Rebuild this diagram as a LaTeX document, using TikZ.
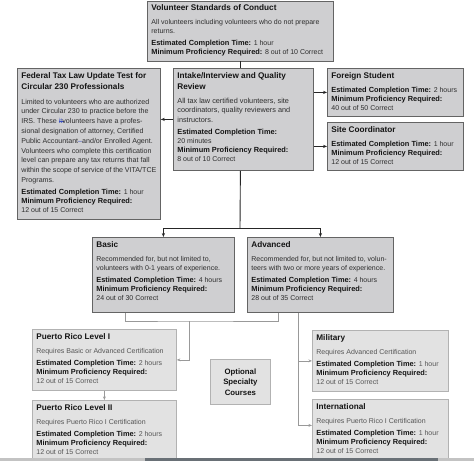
\documentclass[tikz,border=0pt]{standalone}
\usepackage{fontspec}
\setmainfont{Liberation Sans}
\usetikzlibrary{arrows.meta}

\definecolor{cardfill}{RGB}{207,207,209}
\definecolor{cardline}{RGB}{100,100,100}
\definecolor{optfill}{RGB}{226,226,226}
\definecolor{optline}{RGB}{178,178,178}
\definecolor{titletext}{RGB}{20,20,20}
\definecolor{bodytext}{RGB}{45,45,45}
\definecolor{optbody}{RGB}{85,85,85}
\definecolor{editmark}{RGB}{60,80,190}
\definecolor{barlight}{RGB}{195,195,195}
\definecolor{bardark}{RGB}{105,112,118}

\newcommand{\ect}{{\fontsize{7.4}{9}\selectfont\bfseries\color{titletext}Estimated Completion Time:}}
\newcommand{\mpr}{{\fontsize{7.4}{9}\selectfont\bfseries\color{titletext}Minimum Proficiency Required:}}
\newcommand{\cardtitle}[1]{{\fontsize{8.2}{11}\selectfont\bfseries\color{titletext}#1\par}\vspace{5pt}}

\begin{document}
\begin{tikzpicture}[x=1pt, y=-1pt,
        card/.style n args={2}{draw=cardline, fill=cardfill, line width=0.8pt, anchor=north west, inner sep=4pt, text=bodytext, font=\fontsize{7}{9}\selectfont, execute at begin node={\begin{minipage}[t][#2][t]{#1}\raggedright}, execute at end node={\end{minipage}}},
        optcard/.style n args={2}{card={#1}{#2}, draw=optline, fill=optfill, text=optbody},
        note/.style={draw=optline, fill=optfill, line width=0.8pt, anchor=north west, minimum width=60pt, minimum height=45pt, inner sep=0pt, align=center, text=titletext, font=\fontsize{7.8}{10.5}\selectfont\bfseries},
        line/.style={line width=0.9pt, black!85},
        arrow/.style={line, -{Stealth[length=4pt, width=3.2pt]}},
        softline/.style={line width=0.7pt, black!40},
        softarrow/.style={softline, -{Stealth[length=3.5pt, width=2.8pt]}}
    ]
    \useasboundingbox (0,0) rectangle (474,461);

    % upper level
    \node[card={178pt}{52pt}] (vsc) at (147,0.5) {\cardtitle{Volunteer Standards of Conduct}
        All volunteers including volunteers who do not prepare\\returns.\par\vspace{3pt}
        \ect{} 1 hour\\\mpr{} 8 out of 10 Correct};

    \node[card={135pt}{143pt}] (ftl) at (17,68) {\cardtitle{Federal Tax Law Update Test for\\Circular 230 Professionals}
        {\fontsize{7.1}{9.8}\selectfont Limited to volunteers who are authorized\\under Circular 230 to practice before the\\IRS. These \textcolor{editmark}{\rlap{\rule[2.2pt]{5pt}{0.4pt}}it}volunteers have a profes-\\sional designation of attorney, Certified\\Public Accountant\textcolor{editmark}{--}and/or Enrolled Agent.\\Volunteers who complete this certification\\level can prepare any tax returns that fall\\within the scope of service of the VITA/TCE\\Programs.\par}\vspace{3pt}
        \ect{} 1 hour\\\mpr\\12 out of 15 Correct};

    \node[card={132pt}{94pt}] (iiq) at (173,68) {\cardtitle{Intake/Interview and Quality\\Review}
        {\fontsize{7.3}{9.3}\selectfont All tax law certified volunteers, site\\coordinators, quality reviewers and\\instructors.\par}\vspace{3pt}
        \ect\\20 minutes\\\mpr\\8 out of 10 Correct};

    \node[card={128pt}{40pt}] (fs) at (327,68) {\cardtitle{Foreign Student}
        \ect{} 2 hours\\\mpr\\40 out of 50 Correct};
    \node[card={128pt}{40pt}] (sc) at (327,122) {\cardtitle{Site Coordinator}
        \ect{} 1 hour\\\mpr\\12 out of 15 Correct};

    \node[card={134pt}{67pt}] (bas) at (92,237) {\cardtitle{Basic}
        Recommended for, but not limited to,\\volunteers with 0-1 years of experience.\par\vspace{3pt}
        \ect{} 4 hours\\\mpr\\24 out of 30 Correct};
    \node[card={138pt}{67pt}] (adv) at (247,237) {\cardtitle{Advanced}
        Recommended for, but not limited to, volun-\\teers with two or more years of experience.\par\vspace{3pt}
        \ect{} 4 hours\\\mpr\\28 out of 35 Correct};

    % optional specialty courses
    \node[optcard={136pt}{53pt}] (pr1) at (32,329) {\cardtitle{Puerto Rico Level I}
        Requires Basic or Advanced Certification\par\vspace{3pt}
        \ect{} 2 hours\\\mpr\\12 out of 15 Correct};
    \node[optcard={136pt}{52pt}] (pr2) at (32,400) {\cardtitle{Puerto Rico Level II}
        Requires Puerto Rico I Certification\par\vspace{3pt}
        \ect{} 2 hours\\\mpr\\12 out of 15 Correct};
    \node[note] (osc) at (210,359) {Optional\\Specialty\\Courses};
    \node[optcard={128pt}{53pt}] (mil) at (312,330) {\cardtitle{Military}
        Requires Advanced Certification\par\vspace{3pt}
        \ect{} 1 hour\\\mpr\\12 out of 15 Correct};
    \node[optcard={128pt}{53pt}] (intl) at (312,399) {\cardtitle{International}
        Requires Puerto Rico I Certification\par\vspace{3pt}
        \ect{} 1 hour\\\mpr\\12 out of 15 Correct};

    \coordinate (split) at (240,228);
    \coordinate (join) at (189,321);

    \draw[line] (vsc.south) -- (vsc.south |- iiq.north);
    \draw[arrow] (iiq.west) -- (ftl.east |- iiq.west);
    \draw[arrow] (iiq.east |- fs.west) -- (fs.west);
    \draw[arrow] (iiq.east |- sc.west) -- (sc.west);
    \draw[line] (iiq.south -| vsc.south) -- (split);
    \draw[arrow] (split) -| (bas.north);
    \draw[arrow] (split) -| (adv.north);

    \draw[softline] ([xshift=-38pt]bas.south) |- (join) -| ([xshift=-42pt]adv.south);
    \draw[softarrow] (join) |- (pr1.east);
    \draw[softarrow] (pr1) -- (pr2);
    \draw[softarrow] ([xshift=-22pt]adv.south) |- (mil.west);
    \draw[softarrow] ([xshift=-22pt]adv.south) |- ([yshift=4.5pt]intl.west);

    % page edge
    \fill[barlight] (0,458) rectangle (474,461);
    \fill[bardark] (145,458) rectangle (438,461);
\end{tikzpicture}
\end{document}
